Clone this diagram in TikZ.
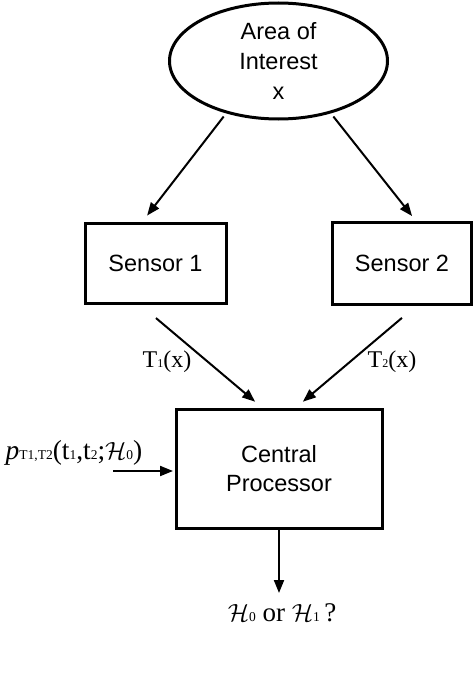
\documentclass[tikz,border=0pt]{standalone}
\usepackage{fontspec}
\setmainfont{Liberation Serif}
\setsansfont{Liberation Sans}
\usetikzlibrary{arrows.meta,shapes.geometric,calc}
\newcommand{\sbx}[1]{{\fontsize{12}{12}\selectfont #1}}
\newcommand{\sbxs}[1]{{\fontsize{13.5}{13.5}\selectfont #1}}
\begin{document}
\begin{tikzpicture}[x=1pt,y=-1pt,
  box/.style={draw,line width=3pt,inner sep=0pt,font=\sffamily\fontsize{23.5}{29}\selectfont,align=center},
  arr/.style={line width=2pt,-{Triangle[length=13pt,width=10pt]}},
  lab/.style={font=\fontsize{24}{28}\selectfont,inner sep=0pt}]
\useasboundingbox (0,0) rectangle (474,693);
\node[box, ellipse, minimum width=218pt, minimum height=116pt, font=\sffamily\fontsize{23.5}{30}\selectfont] (area) at (278.5,61) {Area of\\Interest\\x};
\node[box, minimum width=141pt, minimum height=80pt] (s1) at (155.5,263) {Sensor 1};
\node[box, minimum width=139pt, minimum height=82pt] (s2) at (402,263.5) {Sensor 2};
\node[box, minimum width=206pt, minimum height=119pt] (cp) at (279,468.5) {Central\\Processor};
\node[lab] (t1) at (167,362) {T\sbx{1}(x)};
\node[lab] (t2) at (392,362) {T\sbx{2}(x)};
\node[lab, font=\fontsize{27.5}{30}\selectfont] (pl) at (74,453) {\textit{p}\sbxs{T1,T2}(t\sbxs{1},t\sbxs{2};$\mathcal{H}$\sbxs{0})};
\node[lab, font=\fontsize{27}{30}\selectfont] (out) at (282,613) {$\mathcal{H}$\sbxs{0} or $\mathcal{H}$\sbxs{1}\,?};
\draw[arr, shorten <=4pt, shorten >=7.5pt] (area.225) -- ([xshift=-13pt]s1.north);
\draw[arr, shorten <=4pt, shorten >=6.3pt] (area.315) -- ([xshift=14pt]s2.north);
\draw[arr, shorten <=21pt, shorten >=9pt] ([xshift=-15.6pt]s1.south) -- ([xshift=-17pt]cp.north);
\draw[arr, shorten <=18.4pt, shorten >=9pt] ([xshift=14pt]s2.south) -- ([xshift=17pt]cp.north);
\coordinate (pin) at (113,471);
\draw[arr, shorten >=1.5pt] (pin) -- (pin -| cp.west);
\coordinate (outtip) at (279,593);
\draw[arr] (cp.south) -- (outtip);
\end{tikzpicture}
\end{document}
